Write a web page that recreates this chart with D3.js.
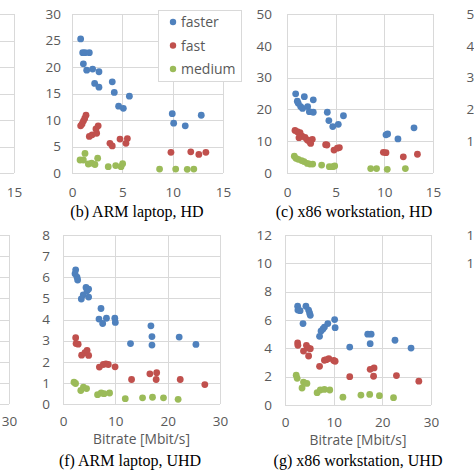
<!DOCTYPE html>
<meta charset="utf-8">
<script src="https://d3js.org/d3.v7.min.js"></script>
<style>
  body { margin: 0; background: #fff; }
  .tick text { font-family: "Open Sans", sans-serif; font-size: 13.5px; fill: #595959; }
  .grid { stroke: #d9d9d9; stroke-width: 1px; shape-rendering: crispEdges; }
  .caption { font-family: "Liberation Serif", serif; font-size: 16px; fill: #000; }
  .xtitle { font-family: "Open Sans", sans-serif; font-size: 13.8px; fill: #595959; }
  .legend text { font-family: "Open Sans", sans-serif; font-size: 14px; fill: #595959; }
</style>
<body>
<div id="chart"></div>
<script>
var seriesNames = ["faster", "fast", "medium"];
var seriesColors = ["#4f81bd", "#c0504d", "#9bbb59"];

// (b) ARM laptop, HD
var armHdFaster = [[0.86,25.3],[1.06,22.7],[1.29,22.7],[1.72,22.7],[1.13,20.6],[1.46,19.4],[2.05,19.6],[2.68,19.1],[2.25,16.9],[2.68,16.2],[4.0,17.2],[4.2,15.2],[5.7,14.5],[4.63,12.6],[5.1,12.2],[9.96,11.2],[10.1,9.4],[11.25,8.9],[12.84,10.9]];
var armHdFast = [[0.86,8.9],[1.0,9.25],[1.13,9.8],[1.26,10.3],[1.39,10.9],[1.72,6.9],[2.0,7.2],[2.45,7.5],[2.38,8.3],[2.6,8.9],[3.77,5.6],[4.0,5.1],[4.77,6.4],[5.36,5.6],[5.5,6.5],[9.83,3.9],[11.8,4.0],[12.6,3.5],[13.3,3.9]];
var armHdMedium = [[0.8,2.45],[1.13,2.45],[1.29,3.7],[1.62,1.7],[1.95,1.85],[2.28,1.6],[2.55,2.8],[3.6,1.2],[4.34,1.4],[4.87,1.2],[5.03,1.75],[8.7,0.75],[10.3,0.75],[11.45,0.7],[12.1,0.75]];

// (c) x86 workstation, HD
var x86HdFaster = [[0.89,24.9],[1.06,22.6],[1.16,21.9],[1.4,20.9],[1.6,20.3],[1.78,24.0],[2.12,20.9],[2.3,19.3],[2.7,23.0],[2.7,19.1],[4.14,19.1],[4.3,16.5],[4.7,14.6],[5.27,15.3],[5.8,18.0],[10.17,12.0],[10.34,12.3],[11.4,10.7],[13.05,14.2]];
var x86HdFast = [[0.82,13.4],[1.06,13.0],[1.34,12.7],[1.54,11.6],[1.23,11.1],[1.85,11.2],[2.09,10.4],[2.3,9.9],[2.6,10.6],[2.43,9.3],[3.97,8.9],[4.1,8.8],[4.83,7.2],[5.17,7.8],[5.38,8.0],[9.9,6.5],[10.17,6.4],[11.95,5.1],[13.4,5.9]];
var x86HdMedium = [[0.75,5.3],[0.92,4.6],[1.16,4.3],[1.5,3.9],[1.75,3.6],[2.09,3.0],[2.36,2.8],[2.64,2.8],[3.56,2.5],[4.35,2.0],[4.7,2.0],[4.9,2.2],[8.6,1.4],[9.2,1.4],[10.3,1.15],[12.16,1.4]];

// (f) ARM laptop, UHD
var armUhdFaster = [[2.42,6.35],[2.3,6.17],[2.68,6.0],[2.8,5.87],[4.4,5.52],[4.6,5.36],[4.9,5.44],[3.87,5.17],[3.5,4.97],[4.9,5.06],[7.26,4.52],[6.88,4.02],[7.58,3.81],[8.3,4.06],[9.9,4.06],[10.0,3.86],[16.8,3.7],[17.0,3.19],[17.0,2.79],[12.9,2.86],[22.2,3.17],[25.4,2.82]];
var armUhdFast = [[2.42,3.14],[2.5,2.86],[2.9,2.83],[3.56,2.31],[4.2,2.43],[4.6,2.54],[4.9,2.3],[6.95,1.75],[7.7,1.87],[8.2,1.9],[8.66,1.87],[9.95,1.76],[13.1,1.16],[16.6,1.43],[17.8,1.16],[17.9,1.48],[22.4,1.16],[27.1,0.92]];
var armUhdMedium = [[2.1,1.03],[2.4,0.97],[3.4,0.64],[3.9,0.8],[4.5,0.73],[6.6,0.44],[7.3,0.52],[7.85,0.49],[8.9,0.52],[11.9,0.25],[15.2,0.29],[17.1,0.32],[19.2,0.29],[22.0,0.22]];

// (g) x86 workstation, UHD
var x86UhdFaster = [[2.6,6.97],[2.65,6.7],[3.1,6.66],[4.3,6.97],[4.85,6.7],[5.05,6.5],[5.2,6.33],[3.7,5.75],[7.1,4.85],[7.4,5.22],[7.8,5.37],[8.1,5.5],[8.8,5.75],[10.2,6.03],[10.3,5.46],[13.3,4.09],[17.0,5.0],[17.7,5.0],[17.5,4.33],[22.6,4.57],[25.9,4.02]];
var x86UhdFast = [[2.6,4.38],[2.65,4.21],[3.8,3.81],[4.4,4.21],[4.8,4.02],[5.2,3.97],[4.85,3.46],[7.1,2.73],[8.1,3.16],[9.0,3.28],[8.5,3.2],[10.0,3.14],[10.3,3.09],[13.3,2.0],[17.5,2.52],[18.3,2.62],[18.2,2.03],[22.9,2.08],[27.5,1.68]];
var x86UhdMedium = [[2.3,2.1],[2.5,1.88],[3.8,1.62],[4.5,1.52],[3.5,1.2],[6.6,0.87],[7.25,1.06],[8.1,1.1],[9.2,1.06],[11.9,0.55],[15.6,0.7],[17.4,0.75],[19.4,0.66],[22.3,0.52]];

var svg = d3.select("#chart").append("svg")
    .attr("width", 474)
    .attr("height", 474);

var panels = [
  // (a) only its right edge is in view
  {left: -132, right: 14, top: 14, bottom: 173, xMax: 15, xStep: 5, yMax: 30, yStep: 5, yGap: 12, xPad: 14, series: [], caption: "(a)", capX: -60, capY: 217},
  {left: 72, right: 223, top: 14, bottom: 173, xMax: 15, xStep: 5, yMax: 30, yStep: 5, yGap: 11, xPad: 14,
   series: [armHdFaster, armHdFast, armHdMedium], caption: "(b) ARM laptop, HD", capX: 137, capY: 217},
  {left: 287, right: 433, top: 14, bottom: 173, xMax: 15, xStep: 5, yMax: 50, yStep: 10, yGap: 15, xPad: 14,
   series: [x86HdFaster, x86HdFast, x86HdMedium], caption: "(c) x86 workstation, HD", capX: 354, capY: 217},
  // (d) only its y labels peek in
  {left: 495, right: 640, top: 14, bottom: 173, xMax: 15, xStep: 5, yMax: 50, yStep: 10, yGap: 13, xPad: 14, series: [], caption: "(d)", capX: 570, capY: 217},
  // (e) only its right edge is in view
  {left: -148, right: 9, top: 235, bottom: 404, xMax: 30, xStep: 10, yMax: 8, yStep: 1, yGap: 13, xPad: 12, series: [], caption: "(e)", capX: -70, capY: 466},
  {left: 63, right: 220, top: 235, bottom: 404, xMax: 30, xStep: 10, yMax: 8, yStep: 1, yGap: 13, xPad: 12,
   series: [armUhdFaster, armUhdFast, armUhdMedium], caption: "(f) ARM laptop, UHD", capX: 130, capY: 466, xTitle: "Bitrate [Mbit/s]"},
  {left: 285, right: 431, top: 235, bottom: 405, xMax: 30, xStep: 10, yMax: 12, yStep: 2, yGap: 13, xPad: 12,
   series: [x86UhdFaster, x86UhdFast, x86UhdMedium], caption: "(g) x86 workstation, UHD", capX: 358, capY: 466, xTitle: "Bitrate [Mbit/s]"},
  // (h) only its y labels peek in
  {left: 495, right: 640, top: 235, bottom: 405, xMax: 30, xStep: 10, yMax: 12, yStep: 2, yGap: 13, xPad: 12, series: [], caption: "(h)", capX: 570, capY: 466}
];

function drawPanel(p) {
  var x = d3.scaleLinear().domain([0, p.xMax]).range([p.left, p.right]);
  var y = d3.scaleLinear().domain([0, p.yMax]).range([p.bottom, p.top]);
  var xt = d3.range(0, p.xMax + 0.001, p.xStep);
  var yt = d3.range(0, p.yMax + 0.001, p.yStep);
  var g = svg.append("g");

  g.selectAll(".hg").data(yt).enter().append("line")
      .attr("class", "grid")
      .attr("x1", p.left).attr("x2", p.right)
      .attr("y1", function(d) { return Math.round(y(d)) + 0.5; })
      .attr("y2", function(d) { return Math.round(y(d)) + 0.5; });
  g.selectAll(".vg").data(xt).enter().append("line")
      .attr("class", "grid")
      .attr("y1", p.top).attr("y2", p.bottom)
      .attr("x1", function(d) { return Math.round(x(d)) + 0.5; })
      .attr("x2", function(d) { return Math.round(x(d)) + 0.5; });

  g.append("g")
      .attr("transform", "translate(" + (p.left - p.yGap) + ",0)")
      .call(d3.axisLeft(y).tickValues(yt).tickSize(0).tickPadding(0))
      .call(function(a) { a.select(".domain").remove(); });
  g.append("g")
      .attr("transform", "translate(0," + p.bottom + ")")
      .call(d3.axisBottom(x).tickValues(xt).tickSize(0).tickPadding(p.xPad))
      .call(function(a) { a.select(".domain").remove(); });

  p.series.forEach(function(s, i) {
    g.append("g").selectAll("circle")
      .data(s)
      .enter()
      .append("circle")
        .attr("cx", function(d) { return x(d[0]); })
        .attr("cy", function(d) { return y(d[1]); })
        .attr("r", 3.4)
        .style("fill", seriesColors[i]);
  });

  if (p.xTitle) {
    g.append("text").attr("class", "xtitle")
      .attr("x", (p.left + p.right) / 2).attr("y", p.bottom + 40)
      .attr("text-anchor", "middle").text(p.xTitle);
  }
  g.append("text").attr("class", "caption")
    .attr("x", p.capX).attr("y", p.capY)
    .attr("text-anchor", "middle").text(p.caption);
}

panels.forEach(drawPanel);

// legend sits over panel (b)
var legend = svg.append("g").attr("class", "legend");
legend.append("rect")
    .attr("x", 158.5).attr("y", 10.5).attr("width", 83).attr("height", 71)
    .style("fill", "#fff").style("stroke", "#d9d9d9");
seriesNames.forEach(function(n, i) {
  legend.append("circle").attr("cx", 173).attr("cy", 22 + i * 23.5).attr("r", 3.2).style("fill", seriesColors[i]);
  legend.append("text").attr("x", 181).attr("y", 27 + i * 23.5).text(n);
});

// drop labels of the neighbouring panels that fall wholly outside the crop
svg.selectAll("text").each(function() {
  var b = this.getBBox();
  var m = this.getCTM();
  var x0 = b.x + m.e, x1 = b.x + b.width + m.e;
  if (x1 <= 0 || x0 >= 474) d3.select(this).remove();
});
</script>
</body>
